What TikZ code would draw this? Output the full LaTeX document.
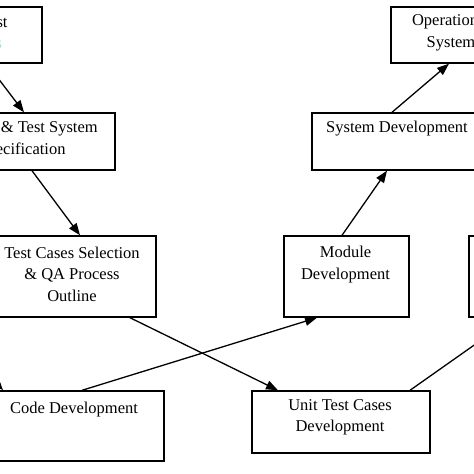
\documentclass[tikz,border=0pt]{standalone}
\usepackage{fontspec}
\setmainfont{Liberation Serif}
\usetikzlibrary{arrows.meta, positioning}

\begin{document}
\begin{tikzpicture}[x=1pt, y=-1pt, >={Triangle[length=12pt, width=9pt]},
	font=\fontsize{16.5}{21.5}\selectfont,
	box/.style={draw, line width=1.4pt, rectangle, inner sep=0pt},
	txt/.style={align=center, inner sep=0pt},
	arr/.style={->, line width=1.3pt}]
				\useasboundingbox (0,0) rectangle (474,474);
				\clip (0,0) rectangle (474,474);
				
				% left branch
				\node[box, minimum width=112pt, minimum height=56pt] (req) at (-14,35) {};
				\node[txt] (reqt) at (-19,32.5) {Request\\{\color{teal!30}Forms}};
				\node[box, minimum width=189pt, minimum height=57pt] (spec) at (20.5,141.5) {};
				\node[txt] (spect) at (22,140) {Process \& Test System\\Specification};
				\node[box, minimum width=168pt, minimum height=81pt] (tcs) at (72,276.5) {};
				\node[txt] (tcst) at (72,274) {Test Cases Selection\\\& QA Process\\Outline};
				\node[box, minimum width=180pt, minimum height=70pt] (code) at (74,426) {};
				\node[txt] (codet) at (74,409.5) {Code Development};
				\coordinate (dd) at (-60,317);
				
				% right branch
				\node[box, minimum width=178pt, minimum height=62pt] (unit) at (341,422) {};
				\node[txt] (unitt) at (340,417.5) {Unit Test Cases\\Development};
				\node[box, minimum width=125pt, minimum height=81pt] (mod) at (346.5,276.5) {};
				\node[txt] (modt) at (345.5,264.5) {Module\\Development};
				\node[box, minimum width=122pt, minimum height=81pt] (integ) at (530,276.5) {};
				\node[box, minimum width=170pt, minimum height=57pt] (sys) at (397,141.5) {};
				\node[txt] (syst) at (397,128.5) {System Development};
				\node[box, minimum width=120pt, minimum height=56pt] (op) at (451,35) {};
				\node[txt] (opt) at (451,32.5) {Operational\\System};
				
				\draw[arr] ([xshift=1pt]req.south) -- ([xshift=3.5pt]spec.north);
				\draw[arr] ([xshift=11.5pt]spec.south) -- ([xshift=8pt]tcs.north);
				\draw[arr] (dd) -- ([xshift=-71pt]code.north);
				\draw[arr] ([xshift=58pt]tcs.south) -- ([xshift=-63pt]unit.north);
				\draw[arr] ([xshift=8pt]code.north) -- ([xshift=-29.5pt]mod.south);
				\draw[arr] ([xshift=69pt]unit.north) -- ([xshift=-17pt]integ.south);
				\draw[arr] ([xshift=-4.5pt]mod.north) -- ([xshift=-10pt]sys.south);
				\draw[arr] ([xshift=-5pt]sys.north) -- ([xshift=-2pt]op.south);
			\end{tikzpicture}
\end{document}
